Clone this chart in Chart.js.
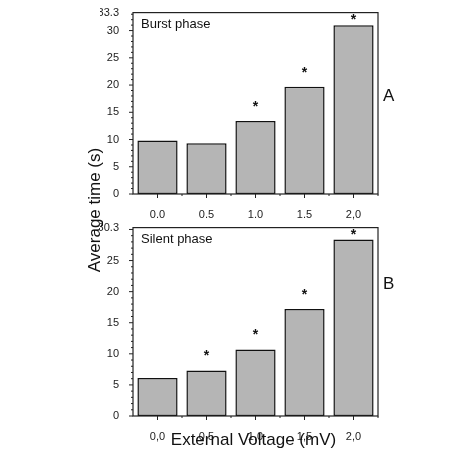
<!DOCTYPE html><html><head><style>body{margin:0;background:#fff;width:474px;height:474px;position:relative;font-family:"Liberation Sans",Arial,sans-serif}
canvas{position:absolute}.t{position:absolute;color:#111}</style>
<script src="https://cdn.jsdelivr.net/npm/chart.js@4"></script></head><body>
<div style="position:absolute;left:100px;top:0;width:290px;height:230px"><canvas id="c1"></canvas></div>
<div style="position:absolute;left:100px;top:215px;width:290px;height:230px"><canvas id="c2"></canvas></div>
<div class="t" style="left:383px;top:86px;font-size:17px">A</div>
<div class="t" style="left:383px;top:274px;font-size:17px">B</div>
<div class="t" style="left:-5px;top:200px;width:200px;text-align:center;font-size:17px;transform:rotate(-90deg)">Average time (s)</div>
<div class="t" style="left:130px;top:430px;width:247px;text-align:center;font-size:17px">External Voltage (mV)</div>
<script>
const topLabels=["0.0","0.5","1.0","1.5","2,0"];
const botLabels=["0,0","0,5","1,0","1,5","2,0"];
const burstValues=[9.8,9.3,13.4,19.7,31.0];
const silentValues=[6.1,7.3,10.7,17.2,28.4];
const burstStars=[0,0,1,1,1];
const silentStars=[0,1,1,1,1];
function make(id,labels,vals,stars,max,title,padTop,xh){
 const deco={id:'deco',afterDraw(ch){const c=ch.ctx,a=ch.chartArea,y=ch.scales.y,x=ch.scales.x;
  c.save();c.strokeStyle='#222';c.lineWidth=1.2;c.strokeRect(a.left,a.top,a.right-a.left,a.bottom-a.top);
  c.lineWidth=1;c.beginPath();
  for(let v=0;v<=max;v+=1){const p=y.getPixelForValue(v);const L=v%5==0?4:2;c.moveTo(a.left,p);c.lineTo(a.left-L,p);}
  for(let i=0;i<labels.length;i++){const p=x.getPixelForValue(i);c.moveTo(p,a.bottom);c.lineTo(p,a.bottom+4);
   if(i<labels.length){const q=p+ (x.getPixelForValue(1)-x.getPixelForValue(0))/2;c.moveTo(q,a.bottom);c.lineTo(q,a.bottom+2);} }
  c.stroke();
  c.fillStyle='#111';c.font='13px "Liberation Sans",Arial';c.textBaseline='middle';c.fillText(title,a.left+8,a.top+12);
  c.font='bold 14px "Liberation Sans",Arial';c.textAlign='center';
  ch.getDatasetMeta(0).data.forEach((b,i)=>{if(stars[i]){c.fillText('*',b.x,Math.max(b.y-14,a.top+8));}});
  c.restore();}};
 new Chart(document.getElementById(id),{type:'bar',data:{labels,datasets:[{data:vals,backgroundColor:'#b5b5b5',borderColor:'#111',borderWidth:1.5,borderSkipped:false,barPercentage:0.82,categoryPercentage:1}]},
 options:{responsive:true,maintainAspectRatio:false,animation:false,layout:{padding:{top:padTop,right:12}},
 plugins:{legend:{display:false},tooltip:{enabled:false}},
 scales:{x:{grid:{display:false},border:{display:false},ticks:{color:'#222',font:{size:11,family:'"Liberation Sans",Arial'},padding:6},afterFit(s){s.height=xh;}},
  y:{min:0,max:max,grid:{display:false},border:{display:false},ticks:{stepSize:5,color:'#222',font:{size:11,family:'"Liberation Sans",Arial'},padding:6},afterFit(s){s.width=33;}}}},
 plugins:[deco]});
}
make('c1',topLabels,burstValues,burstStars,33.3,'Burst phase',2,36);
make('c2',botLabels,silentValues,silentStars,30.3,'Silent phase',6,29);
</script></body></html>
